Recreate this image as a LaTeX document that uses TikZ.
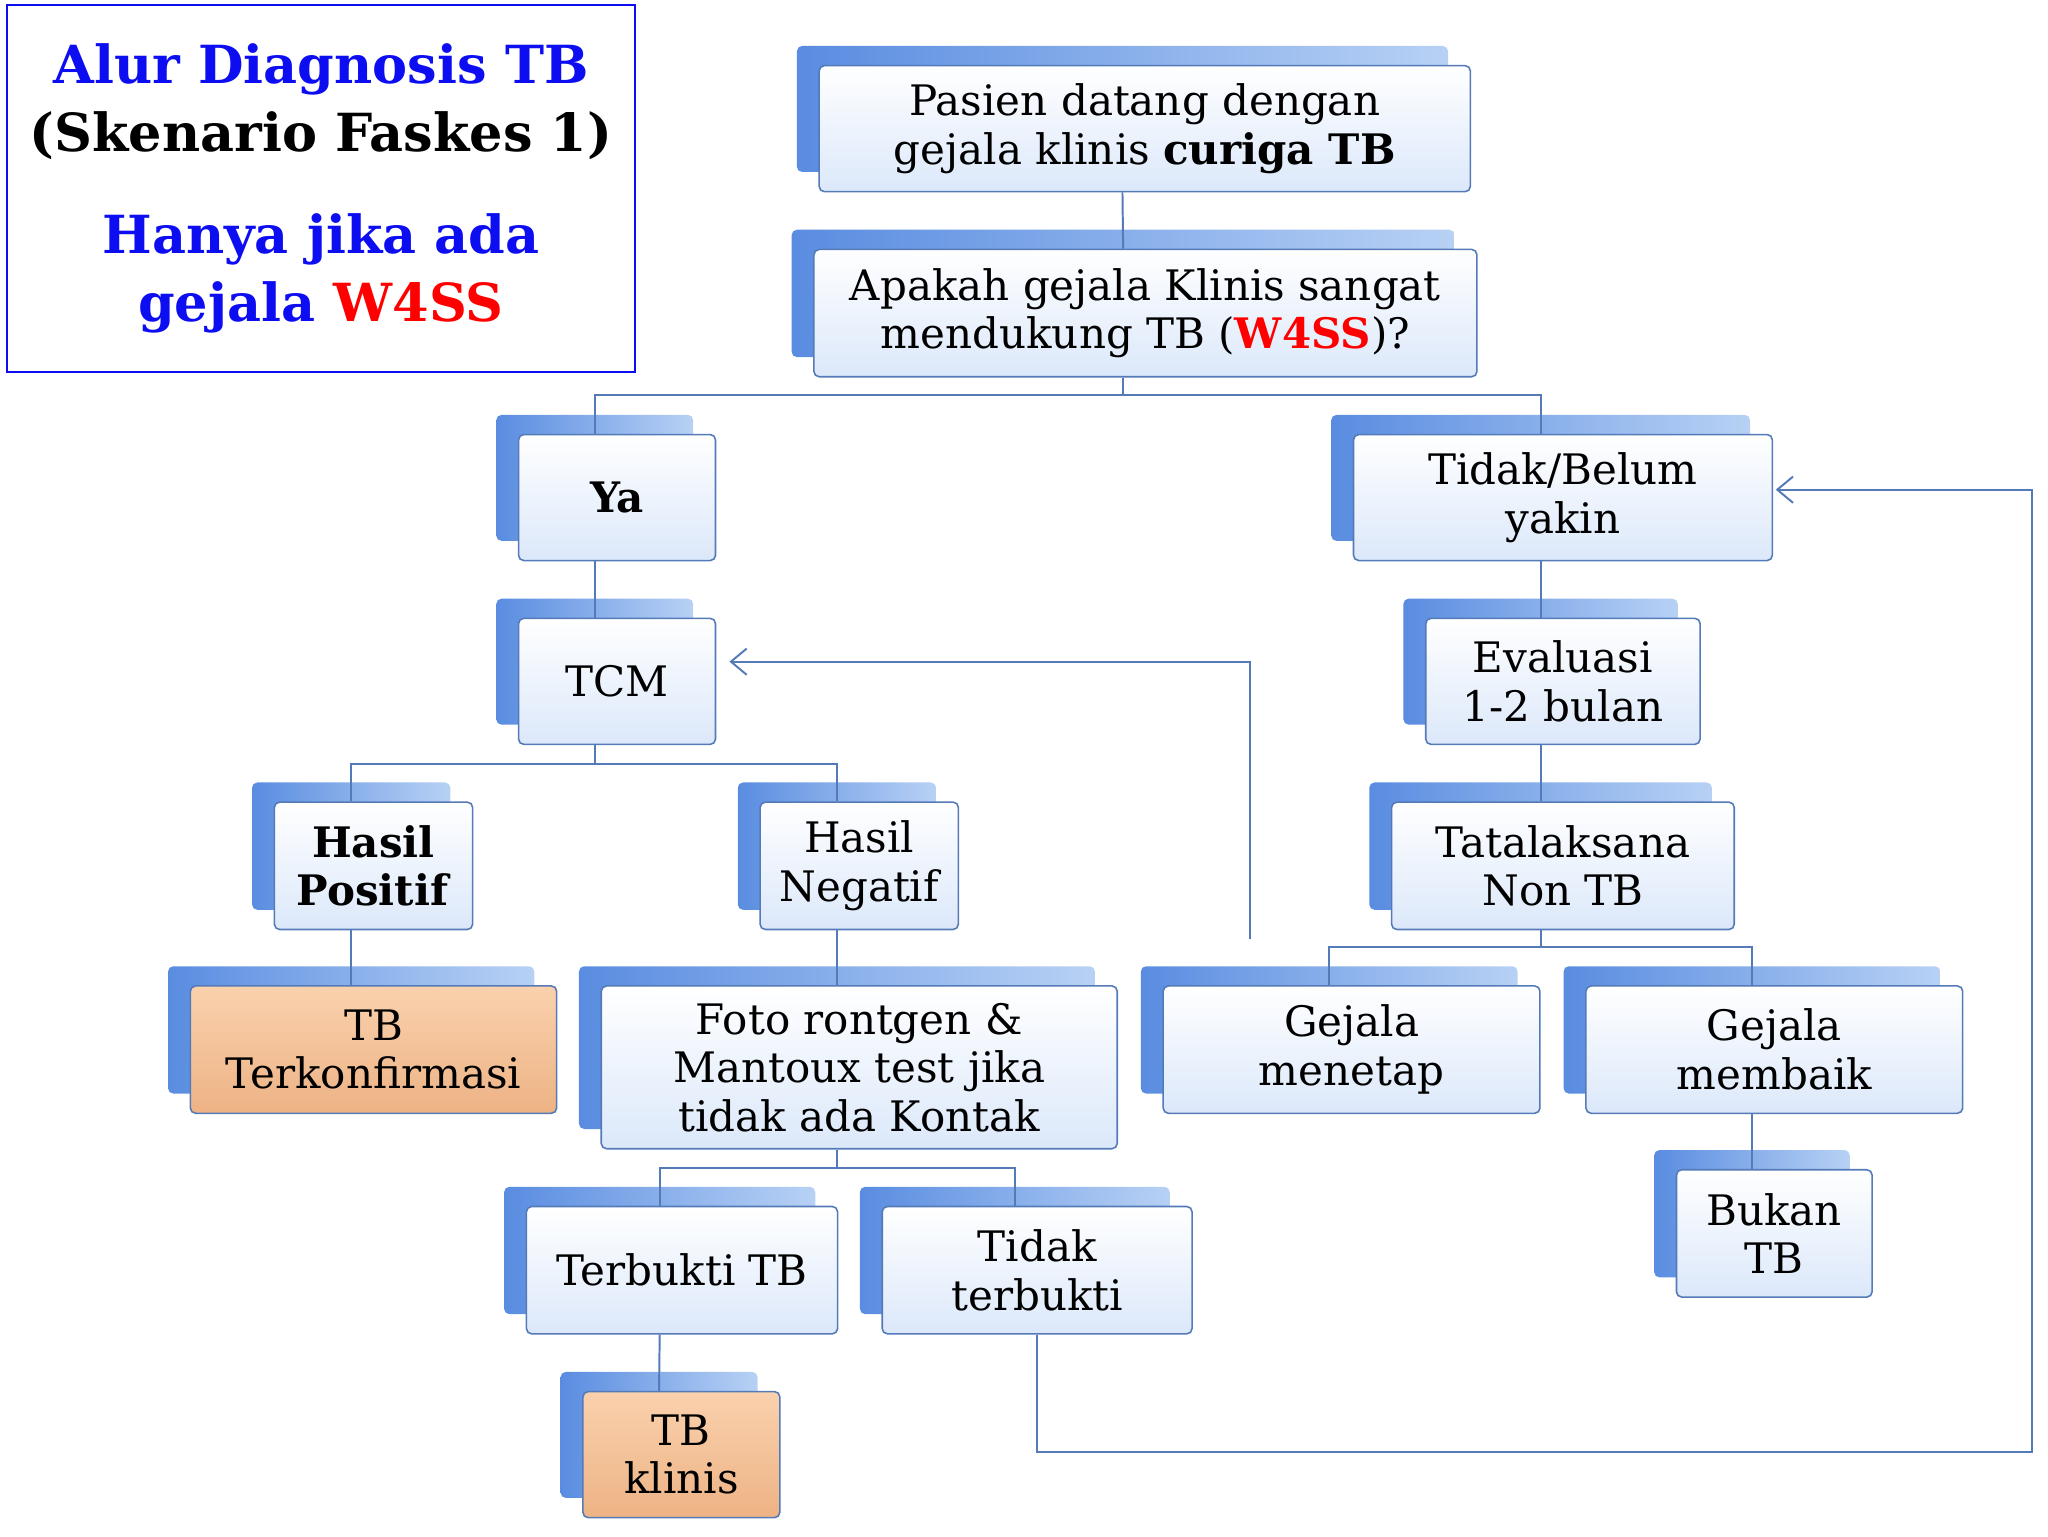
\documentclass[tikz,border=0pt]{standalone}
\usepackage{fontspec}
\setmainfont{DejaVu Serif}
\usetikzlibrary{calc,arrows.meta}
\definecolor{edge}{rgb}{0.33,0.48,0.72}
\definecolor{backA}{rgb}{0.35,0.55,0.88}
\definecolor{backB}{rgb}{0.72,0.82,0.96}
\definecolor{frontB}{rgb}{0.86,0.91,0.98}
\definecolor{orA}{rgb}{0.98,0.82,0.68}
\definecolor{orB}{rgb}{0.93,0.70,0.52}
\definecolor{ttlblue}{rgb}{0.05,0.05,0.95}
\tikzset{
 box/.style={draw=edge,line width=1.2pt,rounded corners=4pt,top color=white,bottom color=frontB,inner sep=0pt,align=center,font=\fontsize{32}{37}\selectfont},
 orbox/.style={box,top color=orA,bottom color=orB},
 backsh/.style={rounded corners=4pt,left color=backA,right color=backB},
 ln/.style={draw=edge,line width=1.5pt},
 arr/.style={ln,-{Straight Barb[length=12pt,width=20pt]}}
}
\newcommand\bx[7]{%
 \shade[backsh] ({#2-#4/2-17},{#3-#5/2-15}) rectangle ++(#4,#5);
 \node[#6,minimum width=#4pt,minimum height=#5pt] (#1) at (#2,#3) {#7};}
\begin{document}
\begin{tikzpicture}[x=1pt,y=-1pt]
\useasboundingbox (0,0) rectangle (1560,1170);
\node[draw=ttlblue,line width=1.5pt,minimum width=479pt,minimum height=279pt,align=center,inner sep=0pt,font=\bfseries\fontsize{40}{52}\selectfont] (title) at (244.5,143.5)
 {\textcolor{ttlblue}{Alur Diagnosis TB}\\(Skenario Faskes 1)\\[26pt]\textcolor{ttlblue}{Hanya jika ada}\\\textcolor{ttlblue}{gejala \textcolor{red}{W4SS}}};
\bx{pasien}{872}{98}{496}{96}{box}{Pasien datang dengan\\gejala klinis \textbf{curiga TB}}
\bx{apakah}{872.5}{238.5}{505}{97}{box}{Apakah gejala Klinis sangat\\mendukung TB (\textbf{\textcolor{red}{W4SS}})?}
\bx{ya}{470}{379}{150}{96}{box}{\textbf{Ya}}
\bx{tidak}{1190.5}{379}{319}{96}{box}{Tidak/Belum\\yakin}
\bx{tcm}{470}{519}{150}{96}{box}{TCM}
\bx{eval}{1190.5}{519}{209}{96}{box}{Evaluasi\\1-2 bulan}
\bx{pos}{284.5}{659.5}{151}{97}{box}{\textbf{Hasil}\\\textbf{Positif}}
\bx{neg}{654.5}{659.5}{151}{97}{box}{Hasil\\Negatif}
\bx{tata}{1190.5}{659.5}{261}{97}{box}{Tatalaksana\\Non TB}
\bx{tbk}{284.5}{799.5}{279}{97}{orbox}{TB\\Terkonfirmasi}
\bx{foto}{654.5}{813}{393}{124}{box}{Foto rontgen \&\\Mantoux test jika\\tidak ada Kontak}
\bx{menetap}{1029.5}{799.5}{287}{97}{box}{Gejala\\menetap}
\bx{membaik}{1351.5}{799.5}{287}{97}{box}{Gejala\\membaik}
\bx{terbukti}{519.5}{967.5}{237}{97}{box}{Terbukti TB}
\bx{tidakt}{790}{967.5}{236}{97}{box}{Tidak\\terbukti}
\bx{bukan}{1351.5}{939.5}{149}{97}{box}{Bukan\\TB}
\bx{klinis}{519}{1108}{150}{96}{orbox}{TB\\klinis}
\draw[ln] ([xshift=-17pt]pasien.south) -- ([xshift=-17pt]apakah.north);
\draw[ln] ([xshift=-17pt]apakah.south) -- ++(0,13) -| ([xshift=-17pt]ya.north);
\draw[ln] ([xshift=-17pt]apakah.south) -- ++(0,13) -| ([xshift=-17pt]tidak.north);
\draw[ln] ([xshift=-17pt]ya.south) -- ([xshift=-17pt]tcm.north);
\draw[ln] ([xshift=-17pt]tcm.south) -- ++(0,14) -| ([xshift=-17pt]pos.north);
\draw[ln] ([xshift=-17pt]tcm.south) -- ++(0,14) -| ([xshift=-17pt]neg.north);
\draw[ln] ([xshift=-17pt]pos.south) -- ([xshift=-17pt]tbk.north);
\draw[ln] ([xshift=-17pt]neg.south) -- ([xshift=-17pt]foto.north);
\draw[ln] ([xshift=-17pt]foto.south) -- ++(0,14) -| ([xshift=-17pt]terbukti.north);
\draw[ln] ([xshift=-17pt]foto.south) -- ++(0,14) -| ([xshift=-17pt]tidakt.north);
\draw[ln] ([xshift=-17pt]terbukti.south) -- ([xshift=-17pt]klinis.north);
\draw[ln] ([xshift=-17pt]tidak.south) -- ([xshift=-17pt]eval.north);
\draw[ln] ([xshift=-17pt]eval.south) -- ([xshift=-17pt]tata.north);
\draw[ln] ([xshift=-17pt]tata.south) -- ++(0,13) -| ([xshift=-17pt]menetap.north);
\draw[ln] ([xshift=-17pt]tata.south) -- ++(0,13) -| ([xshift=-17pt]membaik.north);
\draw[ln] ([xshift=-17pt]membaik.south) -- ([xshift=-17pt]bukan.north);
\coordinate (c1) at (952,715);
\draw[arr] (c1) |- ($(tcm.east)+(10,-15)$);
\coordinate (c2) at (1548,1106);
\draw[arr] (tidakt.south) |- (c2) |- ($(tidak.east)+(2,-6)$);
\end{tikzpicture}
\end{document}
